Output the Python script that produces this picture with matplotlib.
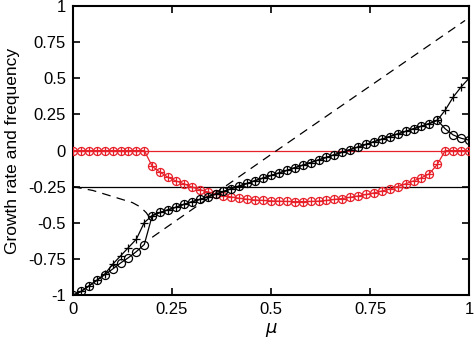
import numpy as np
import matplotlib
matplotlib.use("Agg")
import matplotlib.pyplot as plt

plt.rcParams['font.family'] = ['Liberation Sans', 'DejaVu Sans']
plt.rcParams['axes.unicode_minus'] = False
plt.rcParams['mathtext.fontset'] = 'dejavusans'

# ---- data ----
mu_low = [0.00, 0.02, 0.04, 0.06, 0.08, 0.10, 0.12, 0.14, 0.16, 0.18]
growth_low_o = [-1.000, -0.975, -0.937, -0.898, -0.859, -0.820, -0.778, -0.741, -0.699, -0.650]
growth_low_x = [-1.000, -0.975, -0.937, -0.898, -0.855, -0.787, -0.729, -0.671, -0.613, -0.498]

mu_mid = [0.20, 0.22, 0.24, 0.26, 0.28, 0.30, 0.32, 0.34, 0.36, 0.38,
          0.40, 0.42, 0.44, 0.46, 0.48, 0.50, 0.52, 0.54, 0.56, 0.58,
          0.60, 0.62, 0.64, 0.66, 0.68, 0.70, 0.72, 0.74, 0.76, 0.78,
          0.80, 0.82, 0.84, 0.86, 0.88, 0.90, 0.92]
growth_mid = [-0.450, -0.428, -0.410, -0.392, -0.372, -0.355, -0.338, -0.320, -0.302, -0.283,
              -0.263, -0.245, -0.227, -0.208, -0.190, -0.172, -0.155, -0.137, -0.119, -0.101,
              -0.083, -0.065, -0.047, -0.029, -0.011, 0.007, 0.025, 0.043, 0.061, 0.079,
              0.097, 0.115, 0.133, 0.151, 0.169, 0.187, 0.210]
freq_mid = [-0.109, -0.150, -0.185, -0.210, -0.230, -0.252, -0.270, -0.286, -0.300, -0.311,
            -0.321, -0.330, -0.337, -0.342, -0.345, -0.348, -0.350, -0.352, -0.353, -0.353,
            -0.352, -0.350, -0.345, -0.338, -0.332, -0.323, -0.314, -0.304, -0.293, -0.280,
            -0.266, -0.249, -0.230, -0.210, -0.188, -0.160, -0.095]

mu_high = [0.94, 0.96, 0.98, 1.00]
growth_high_o = [0.150, 0.108, 0.085, 0.072]
growth_high_x = [0.280, 0.370, 0.440, 0.500]

freq_low = [0.0] * len(mu_low)
freq_high = [0.0] * len(mu_high)

# dashed approximations
dash1_mu = [0.00, 0.05, 0.10, 0.15, 0.17, 0.185, 0.19]
dash1_val = [-0.250, -0.276, -0.318, -0.360, -0.390, -0.430, -0.450]
dash2_mu = [0.20, 0.51, 0.99]
dash2_val = [-0.600, -0.008, 0.900]

ref_growth = -0.25
ref_freq = 0.0

xticks = [0, 0.25, 0.5, 0.75, 1]
xticklabels = ['0', '0.25', '0.5', '0.75', '1']
yticks = [-1, -0.75, -0.5, -0.25, 0, 0.25, 0.5, 0.75, 1]
yticklabels = ['-1', '-0.75', '-0.5', '-0.25', '0', '0.25', '0.5', '0.75', '1']

# ---- assemble branches ----
mu_all = mu_low + mu_mid + mu_high
branch_o = growth_low_o + growth_mid + growth_high_o
branch_x = growth_low_x + growth_mid + growth_high_x
freq_all = freq_low + freq_mid + freq_high

red = '#e8202a'
fig = plt.figure(figsize=(4.74, 3.53), dpi=100)
ax = fig.add_axes([0.154, 0.164, 0.8355, 0.819])

ax.axhline(ref_freq, color=red, lw=0.9, zorder=1)
ax.axhline(ref_growth, color='black', lw=0.9, zorder=1)

ax.plot(dash1_mu, dash1_val, color='black', lw=0.9, ls=(0, (7, 5)), zorder=2)
ax.plot(dash2_mu, dash2_val, color='black', lw=0.9, ls=(0, (7, 5)), zorder=2)

ms = 5.8
mew = 0.9
ax.plot(mu_all, freq_all, color=red, lw=0.9, marker='o', ms=ms, mfc='none', mew=mew, zorder=3)
ax.plot(mu_all, freq_all, color=red, lw=0, marker='+', ms=ms, mew=mew, zorder=3)

ax.plot(mu_all, branch_o, color='black', lw=0.9, marker='o', ms=ms, mfc='none', mew=mew, zorder=4)
ax.plot(mu_all, branch_x, color='black', lw=0.9, marker='+', ms=ms, mew=mew, zorder=4)

ax.set_xlim(0, 1)
ax.set_ylim(-1, 1)
ax.set_xticks(xticks)
ax.set_xticklabels(xticklabels)
ax.set_yticks(yticks)
ax.set_yticklabels(yticklabels)
ax.tick_params(direction='in', length=5, width=1.2, top=True, right=True,
               labelsize=12, pad=5)
for s in ax.spines.values():
    s.set_linewidth(1.5)

ax.set_xlabel(r'$\mu$', fontsize=13, labelpad=3)
ax.set_ylabel('Growth rate and frequency', fontsize=12.5, labelpad=6)

fig.savefig('out.png', dpi=100)
